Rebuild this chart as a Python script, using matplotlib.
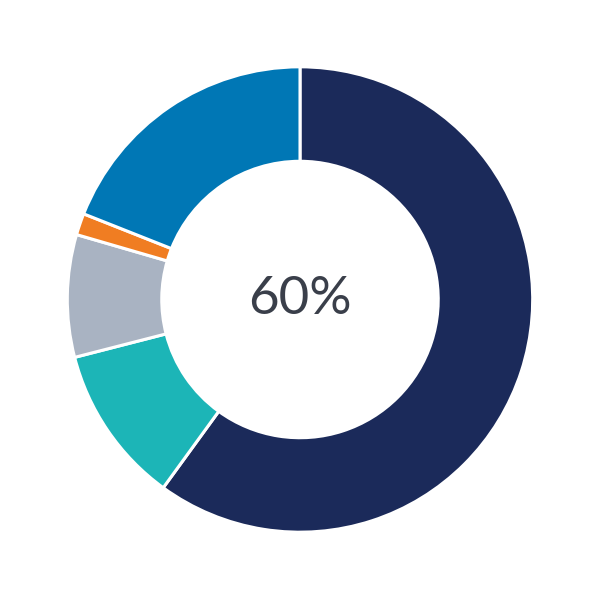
import matplotlib
matplotlib.use("Agg")
import matplotlib.pyplot as plt

labels = ["Navy", "Teal", "Gray", "Orange", "Blue"]
values = [60, 11, 8.5, 1.5, 19]
colors = ["#1b2a5a", "#1cb5b7", "#a9b3c2", "#f07d22", "#0077b5"]
center_text = "60%"

fig = plt.figure(figsize=(6.0, 5.99), dpi=100)
ax = fig.add_axes([0, 0, 1, 1])
ax.pie(values, colors=colors, startangle=90, counterclock=False,
       radius=1.01, wedgeprops=dict(width=0.41, edgecolor="white", linewidth=2.2))
ax.set_xlim(-1.3, 1.3)
ax.set_ylim(-1.3, 1.3)
ax.set_aspect("equal")
ax.axis("off")
ax.text(0, 0, center_text, ha="center", va="center", fontsize=38,
        color="#3a3f4a", family=["Lato", "DejaVu Sans"])
fig.savefig("out.png", dpi=100, facecolor="white")
